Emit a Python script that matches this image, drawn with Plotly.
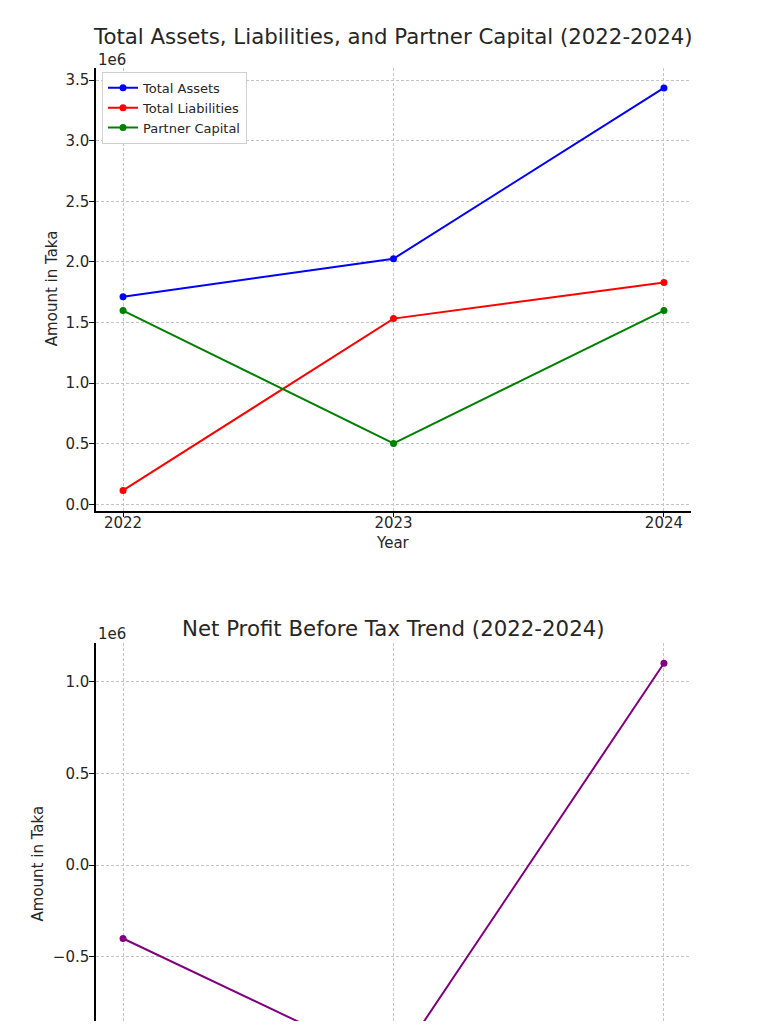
import plotly.graph_objects as go

# ---- data ----
years = [2022, 2023, 2024]
total_assets = [1.713e6, 2.026e6, 3.435e6]
total_liabilities = [0.115e6, 1.532e6, 1.829e6]
partner_capital = [1.598e6, 0.502e6, 1.598e6]
net_profit = [-0.40e6, -1.10e6, 1.10e6]

year_ticks = ["2022", "2023", "2024"]
top_yticks = [0, 0.5e6, 1.0e6, 1.5e6, 2.0e6, 2.5e6, 3.0e6, 3.5e6]
top_yticktext = ["0.0", "0.5", "1.0", "1.5", "2.0", "2.5", "3.0", "3.5"]
bot_yticks = [-1.0e6, -0.5e6, 0.0, 0.5e6, 1.0e6]
bot_yticktext = ["\u22121.0", "\u22120.5", "0.0", "0.5", "1.0"]

# ---- layout geometry (pixels) ----
W, H = 768, 1024
FONT = "DejaVu Sans"
TXT = "#262626"
GRID = "#c4c4c4"

x0_px, x1_px = 96, 691
top_t, top_b = 68, 512
bot_t = 645

def px_x(p):
    return p / W

def px_y(p):
    return 1 - p / H

# bottom panel: y scale 184 px per 1e6, top of axes at 1.21e6
bot_scale = 184.0 / 1e6
bot_top_val = 1.21e6
bot_bottom_val = bot_top_val - (H - bot_t) / bot_scale

fig = go.Figure()

fig.add_trace(go.Scatter(x=years, y=total_assets, mode="lines+markers", name="Total Assets",
                         line=dict(color="blue", width=2), marker=dict(size=7, color="blue"),
                         xaxis="x", yaxis="y"))
fig.add_trace(go.Scatter(x=years, y=total_liabilities, mode="lines+markers", name="Total Liabilities",
                         line=dict(color="red", width=2), marker=dict(size=7, color="red"),
                         xaxis="x", yaxis="y"))
fig.add_trace(go.Scatter(x=years, y=partner_capital, mode="lines+markers", name="Partner Capital",
                         line=dict(color="green", width=2), marker=dict(size=7, color="green"),
                         xaxis="x", yaxis="y"))
fig.add_trace(go.Scatter(x=years, y=net_profit, mode="lines+markers", name="Net Profit Before Tax",
                         line=dict(color="purple", width=2), marker=dict(size=7, color="purple"),
                         xaxis="x2", yaxis="y2", showlegend=False))

grid_style = dict(showgrid=True, gridcolor=GRID, gridwidth=0.8, griddash="3px,2px", zeroline=False)
common_axis = dict(
    showline=True, linecolor="black", linewidth=1.5,
    ticks="outside", ticklen=5, tickwidth=1, tickcolor="black",
    tickfont=dict(family=FONT, size=15, color=TXT),
    **grid_style,
)

fig.update_layout(
    width=W, height=H,
    margin=dict(l=0, r=0, t=0, b=0),
    paper_bgcolor="white", plot_bgcolor="white",
    font=dict(family=FONT, color=TXT),
    showlegend=True,
    legend=dict(x=px_x(102), y=px_y(72), xanchor="left", yanchor="top",
                bgcolor="white", bordercolor="#d0d0d0", borderwidth=1,
                font=dict(family=FONT, size=13, color=TXT),
                itemwidth=30, tracegroupgap=0),
    xaxis=dict(domain=[px_x(x0_px), px_x(x1_px)], anchor="y", range=[2021.9, 2024.1],
               tickvals=years, ticktext=year_ticks, ticklabelstandoff=-7, **common_axis),
    yaxis=dict(domain=[px_y(top_b), px_y(top_t)], anchor="x", range=[-0.051e6, 3.601e6],
               tickvals=top_yticks, ticktext=top_yticktext, ticklabelstandoff=-3, **common_axis),
    xaxis2=dict(domain=[px_x(x0_px), px_x(x1_px)], anchor="y2", range=[2021.9, 2024.1],
                tickvals=years, ticktext=year_ticks, showticklabels=False,
                showline=False, ticks="", **grid_style),
    yaxis2=dict(domain=[0, px_y(bot_t)], anchor="x2", range=[bot_bottom_val, bot_top_val],
                tickvals=bot_yticks, ticktext=bot_yticktext, ticklabelstandoff=-3, **common_axis),
)

ann = []
def add_text(text, x, y, size, xanchor="center", yanchor="middle", angle=0):
    ann.append(dict(text=text, x=px_x(x), y=px_y(y), xref="paper", yref="paper",
                    xanchor=xanchor, yanchor=yanchor, showarrow=False, textangle=angle,
                    font=dict(family=FONT, size=size, color=TXT)))

add_text("Total Assets, Liabilities, and Partner Capital (2022-2024)", 393, 37, 21.3)
add_text("Net Profit Before Tax Trend (2022-2024)", 393, 630, 21.3)
add_text("1e6", 96, 60, 15, xanchor="left")
add_text("1e6", 96, 636, 15, xanchor="left")
add_text("Year", 393, 545, 15)
add_text("Amount in Taka", 52, 289, 15, angle=-90)
add_text("Amount in Taka", 38, 866, 15, angle=-90)
fig.update_layout(annotations=ann)

fig.write_html("out.html")
